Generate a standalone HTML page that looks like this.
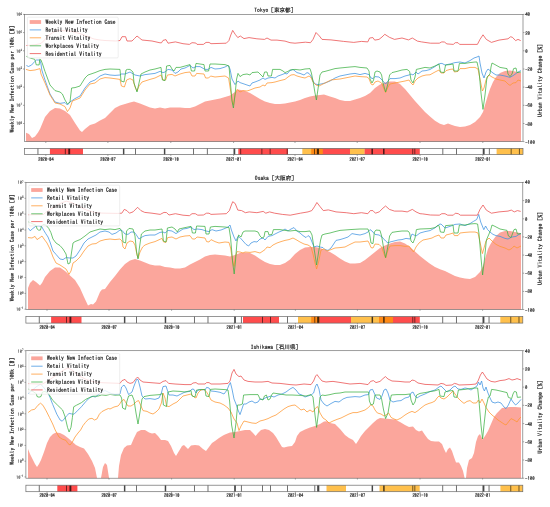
<!DOCTYPE html>
<html lang="ja"><head><meta charset="utf-8"><title>Urban Vitality vs Weekly New Infection Case</title>
<style>
html,body{margin:0;padding:0;background:#fff;}
body{width:550px;height:507px;overflow:hidden;}
svg{display:block;filter:blur(0.3px);}
svg text{font-family:"IPAGothic","Liberation Mono","Noto Sans CJK JP",monospace;stroke:#222;stroke-width:0.18px;paint-order:stroke;}
</style></head><body>
<svg width="550" height="507" viewBox="0 0 550 507">
<rect width="550" height="507" fill="#fff"/>
<polygon points="26.0,141.7 26.0,132.8 29.0,134.0 32.0,138.0 35.0,136.6 38.0,132.5 40.0,129.0 45.0,117.0 50.0,111.0 55.0,108.0 60.0,108.6 65.0,111.0 70.0,115.0 75.0,123.0 80.0,130.6 82.0,132.0 85.0,129.0 90.0,125.0 95.0,123.6 100.0,120.6 105.0,118.0 110.0,113.0 115.0,108.0 120.0,105.4 125.0,104.0 130.0,102.6 134.0,101.6 140.0,103.6 145.0,105.4 150.0,107.4 155.0,108.4 160.0,107.6 165.0,108.4 170.0,107.4 175.0,107.6 180.0,107.4 185.0,108.0 190.0,108.0 195.0,106.6 200.0,104.0 205.0,101.4 210.0,100.6 215.0,99.4 220.0,98.6 225.0,97.0 230.0,95.6 235.0,92.0 238.0,89.4 241.0,90.0 245.0,91.0 250.0,93.0 255.0,96.0 260.0,99.0 265.0,101.4 270.0,103.0 275.0,104.0 280.0,104.0 285.0,103.6 290.0,102.6 295.0,101.4 300.0,100.0 305.0,98.0 310.0,96.6 315.0,95.6 320.0,95.0 324.0,94.4 327.0,95.4 330.0,96.6 335.0,98.0 340.0,100.0 345.0,101.0 350.0,101.0 355.0,99.4 360.0,98.0 365.0,96.0 370.0,93.0 375.0,88.0 380.0,84.6 385.0,82.6 390.0,81.4 395.0,81.6 400.0,84.0 405.0,89.0 410.0,95.0 415.0,101.0 420.0,106.6 425.0,112.0 430.0,116.5 435.0,120.8 440.0,123.7 444.0,125.0 448.0,123.6 452.0,125.0 455.0,126.0 460.0,127.0 465.0,126.6 470.0,125.0 475.0,122.0 480.0,117.0 483.0,112.0 485.0,105.0 488.0,95.0 490.0,89.0 493.0,82.0 496.0,77.0 500.0,73.0 505.0,71.0 510.0,70.6 515.0,71.4 520.0,72.6 521.0,72.8 521.0,141.7" fill="#fba69c"/>
<polyline points="26.4,65.5 28.5,66.5 31.5,65.1 34.7,61.5 36.5,60.0 39.8,60.0 41.0,64.0 41.8,70.0 45.0,80.0 50.0,94.0 55.0,102.0 60.0,103.4 65.0,102.6 67.4,105.0 70.0,102.0 75.0,98.6 80.0,96.0 85.0,88.0 90.0,82.0 95.0,80.0 100.0,76.0 105.0,74.0 110.0,75.0 115.0,75.4 120.0,75.0 121.0,74.0 125.0,74.0 130.0,72.0 135.0,75.0 140.0,76.0 145.0,74.6 150.0,74.0 155.0,73.4 160.0,71.4 163.0,72.6 165.0,72.0 168.0,69.4 172.0,70.0 175.0,73.4 178.0,72.0 181.0,69.0 185.0,68.0 190.0,65.4 193.0,68.0 196.0,66.6 200.0,66.6 205.0,69.4 208.0,69.4 211.0,67.4 215.0,69.0 220.0,68.6 225.0,67.0 228.0,65.4 230.0,69.0 232.0,79.0 235.0,84.6 238.0,81.0 240.0,82.6 243.0,83.6 247.0,85.0 250.0,86.0 252.0,83.0 255.0,82.0 260.0,80.0 263.0,78.0 265.0,79.4 268.0,78.0 272.0,77.4 275.0,78.0 278.0,76.0 282.0,74.6 285.0,73.4 287.0,74.0 290.0,70.6 293.0,69.4 297.0,72.6 300.0,73.4 304.0,75.0 307.0,72.6 309.0,73.4 311.0,76.0 313.0,81.0 315.0,84.0 318.0,84.6 321.0,84.0 325.0,83.0 330.0,81.0 335.0,78.0 340.0,76.0 345.0,75.0 350.0,74.0 355.0,73.4 360.0,74.6 365.0,73.4 369.0,74.6 371.0,78.0 373.0,78.6 375.0,76.6 379.0,77.0 382.0,80.0 385.6,84.0 388.0,81.0 390.0,78.6 395.0,78.6 400.0,78.0 405.0,76.0 409.0,75.0 411.0,74.0 413.0,75.0 416.0,72.0 418.0,74.0 422.0,71.0 426.0,70.6 430.0,69.5 435.0,66.5 438.0,64.5 440.0,63.5 442.0,63.4 445.0,65.0 450.0,64.0 455.0,62.6 460.0,62.0 465.0,63.0 470.0,60.6 474.0,58.0 477.0,57.0 479.0,56.0 480.0,63.0 482.0,73.0 484.0,78.0 486.0,72.0 488.0,69.0 490.0,70.6 493.0,73.0 496.0,75.0 500.0,75.0 505.0,76.0 510.0,77.4 514.0,75.0 518.0,72.0 521.0,70.6" fill="none" stroke="#3d92e0" stroke-width="0.75" stroke-linejoin="round"/>
<polyline points="26.0,69.4 30.0,70.6 35.0,70.0 40.0,68.6 41.0,74.0 45.0,83.0 50.0,95.0 55.0,103.0 60.0,104.0 65.0,106.6 67.4,111.6 70.0,108.0 72.4,101.0 75.0,100.0 80.0,98.0 85.0,90.0 90.0,84.0 95.0,83.0 100.0,79.0 105.0,77.6 110.0,78.0 120.0,79.4 121.4,86.0 124.4,87.0 126.6,80.0 130.0,78.6 133.0,80.0 135.0,87.0 137.0,91.0 139.0,86.0 142.0,82.0 145.0,81.0 150.0,79.4 155.0,78.0 161.0,75.0 163.0,80.0 165.6,80.0 167.4,75.0 172.0,74.4 175.0,76.0 180.0,74.0 185.0,72.6 190.0,72.0 192.0,76.0 195.0,76.0 196.6,73.4 204.0,74.0 205.6,78.0 208.6,78.0 210.6,76.0 215.0,77.0 225.0,76.0 228.6,78.0 230.0,87.0 232.0,100.0 233.4,105.0 235.0,95.0 237.0,89.4 240.0,92.0 243.0,90.6 247.0,91.0 250.0,90.0 255.0,88.0 260.0,87.0 263.0,85.0 265.0,86.0 267.0,83.0 272.0,82.6 275.0,82.0 280.0,80.6 285.0,79.4 288.0,77.0 291.0,75.0 294.0,74.6 297.0,76.0 302.0,77.4 305.0,78.0 309.0,76.0 311.0,77.4 313.0,82.0 316.0,85.0 319.0,86.0 323.0,84.0 327.0,82.0 331.0,80.0 335.0,79.5 340.0,79.0 345.0,78.0 350.0,77.0 355.0,76.0 360.0,76.6 367.0,77.0 369.0,78.6 371.0,84.0 373.0,85.0 375.0,82.0 378.0,81.0 381.6,83.0 384.0,89.0 385.6,92.6 388.0,87.0 390.0,84.0 395.0,83.0 400.0,82.0 405.0,81.0 409.0,80.0 411.0,83.0 413.0,85.0 415.0,81.0 418.0,78.0 422.0,76.0 426.0,75.0 430.0,74.8 435.0,72.0 439.0,70.0 441.0,73.0 444.0,73.0 446.0,70.6 450.0,69.4 453.0,69.0 454.4,72.0 458.0,71.4 460.0,68.6 465.0,68.6 470.0,67.4 475.0,67.4 478.0,69.0 480.0,79.0 482.4,91.0 484.0,88.0 486.0,80.0 489.0,75.0 492.0,77.0 496.0,79.0 500.0,80.0 505.0,81.0 508.0,84.0 510.0,85.4 513.0,83.0 516.0,82.6 518.0,80.0 521.0,81.0" fill="none" stroke="#ff962e" stroke-width="0.75" stroke-linejoin="round"/>
<polyline points="26.4,56.4 30.7,58.2 34.7,59.3 35.5,61.8 36.2,64.8 39.1,65.0 39.8,59.3 40.9,59.8 42.5,64.0 45.0,71.5 50.0,85.0 55.0,90.6 60.0,92.0 62.4,94.0 65.0,100.0 67.4,104.0 70.0,102.0 71.6,88.0 75.0,87.6 80.0,86.0 85.0,78.0 88.0,75.0 95.0,72.6 100.0,70.6 105.0,69.4 110.0,69.0 120.0,69.4 121.0,81.0 124.0,82.0 126.0,70.0 127.4,69.4 130.0,69.4 133.0,72.0 134.0,83.0 137.0,92.0 139.0,83.0 141.0,74.0 145.0,72.0 150.0,70.0 155.0,69.0 161.0,67.4 162.4,80.0 165.0,80.6 166.6,66.0 170.0,65.4 172.0,69.0 174.0,71.0 176.0,67.4 180.0,67.4 185.0,66.0 190.0,64.6 191.4,71.0 194.6,71.0 196.0,63.4 200.0,64.0 204.0,64.6 205.0,71.0 208.6,71.0 210.0,64.0 215.0,64.0 225.0,64.6 229.0,66.0 230.6,85.0 232.0,101.0 233.4,108.0 235.0,95.0 236.6,79.0 238.0,73.4 240.0,76.6 243.0,74.6 247.0,74.0 250.0,75.0 252.0,72.6 258.0,72.0 260.0,74.0 263.0,77.0 264.6,72.0 267.0,72.0 268.0,76.0 271.4,76.0 272.6,69.4 280.0,69.4 283.0,71.0 285.0,72.6 288.0,71.4 290.0,70.0 295.0,69.4 300.0,70.0 305.0,69.0 310.0,68.6 311.4,73.0 313.0,81.0 315.0,93.0 316.4,100.0 318.0,89.0 320.0,75.0 322.0,72.0 325.0,71.4 330.0,70.0 335.0,68.6 340.0,68.0 350.0,67.0 355.0,66.6 360.0,67.4 367.0,68.0 369.0,71.0 370.0,79.0 372.0,83.0 373.6,80.0 375.0,72.0 377.0,71.0 380.0,72.0 381.6,75.0 383.0,83.0 385.6,92.0 387.6,85.0 389.6,75.0 392.0,72.6 397.0,71.4 402.0,70.0 407.0,69.4 409.6,71.4 411.0,80.0 413.0,83.0 415.0,77.0 416.4,69.4 420.0,68.6 425.0,67.4 430.0,68.0 435.0,66.0 439.0,64.0 440.4,72.0 444.0,72.6 445.6,65.0 450.0,64.6 453.0,64.0 454.0,71.0 458.0,71.0 459.4,63.4 465.0,63.4 470.0,62.6 475.0,62.0 477.0,62.0 479.0,71.0 481.0,93.0 483.0,109.4 485.0,95.0 487.0,77.0 490.0,74.0 491.0,67.0 492.0,63.0 495.0,64.6 500.0,67.4 507.0,68.6 508.0,74.0 510.0,76.6 512.0,74.0 513.6,68.6 516.0,68.0 517.0,72.6 521.0,72.0" fill="none" stroke="#3cb043" stroke-width="0.75" stroke-linejoin="round"/>
<polyline points="26.4,45.5 35.0,44.8 41.0,43.5 44.5,40.0 48.0,36.0 52.4,32.8 56.0,31.2 60.0,30.5 66.0,30.8 71.0,31.2 76.0,32.5 81.0,34.0 86.4,35.9 90.0,37.5 94.0,39.0 100.0,40.0 105.0,40.5 115.7,41.0 120.0,40.5 122.0,36.7 125.6,36.7 127.0,41.0 132.0,41.0 134.5,38.5 137.0,36.0 139.5,38.0 142.0,40.0 152.0,41.0 160.0,42.8 161.5,42.8 163.0,40.4 166.0,39.6 168.0,43.2 175.4,41.9 183.0,43.7 189.4,44.4 192.0,42.7 195.8,43.0 197.0,44.4 203.4,44.4 206.0,42.4 209.0,42.4 211.0,43.7 226.3,43.2 228.9,40.6 230.8,35.0 232.7,30.4 235.2,34.3 237.8,37.6 240.3,36.0 244.0,38.6 249.0,37.6 256.9,38.8 264.5,39.4 267.0,38.0 271.0,40.1 277.0,40.1 285.0,41.1 290.0,42.7 295.0,43.2 305.4,42.2 310.5,42.7 313.0,39.4 314.5,36.0 316.0,32.5 319.4,36.0 322.0,39.4 331.0,39.9 343.6,41.4 353.8,42.4 361.4,41.4 367.8,41.9 369.6,38.0 372.9,37.6 374.7,40.1 379.0,39.4 382.0,37.0 384.8,34.3 389.4,37.3 394.5,39.4 402.0,38.0 408.5,39.9 412.3,38.0 417.4,41.1 421.5,41.9 430.4,43.2 439.3,43.2 441.8,41.9 444.4,42.0 446.9,43.9 453.3,44.4 455.3,42.7 458.0,42.7 459.6,44.4 477.4,44.4 480.0,39.4 483.0,34.8 486.3,39.4 491.4,42.4 499.0,40.1 508.0,38.8 510.5,36.8 512.3,37.2 515.6,40.6 518.0,39.4 520.7,40.6" fill="none" stroke="#ea4a4a" stroke-width="0.75" stroke-linejoin="round"/>
<rect x="24.4" y="14.4" width="498.6" height="127.2" fill="none" stroke="#6a6a6a" stroke-width="0.65"/>
<line x1="45.8" y1="141.7" x2="45.8" y2="143.0" stroke="#6a6a6a" stroke-width="0.6"/>
<line x1="107.9" y1="141.7" x2="107.9" y2="143.0" stroke="#6a6a6a" stroke-width="0.6"/>
<line x1="170.8" y1="141.7" x2="170.8" y2="143.0" stroke="#6a6a6a" stroke-width="0.6"/>
<line x1="233.6" y1="141.7" x2="233.6" y2="143.0" stroke="#6a6a6a" stroke-width="0.6"/>
<line x1="295.0" y1="141.7" x2="295.0" y2="143.0" stroke="#6a6a6a" stroke-width="0.6"/>
<line x1="357.2" y1="141.7" x2="357.2" y2="143.0" stroke="#6a6a6a" stroke-width="0.6"/>
<line x1="420.0" y1="141.7" x2="420.0" y2="143.0" stroke="#6a6a6a" stroke-width="0.6"/>
<line x1="482.8" y1="141.7" x2="482.8" y2="143.0" stroke="#6a6a6a" stroke-width="0.6"/>
<line x1="23.0" y1="14.4" x2="24.4" y2="14.4" stroke="#6a6a6a" stroke-width="0.6"/>
<text x="22.1" y="16.2" text-anchor="end" font-size="4.5" fill="#3a3a3a" style="stroke-width:0.08px">10<tspan dy="-1.7" font-size="3.1">6</tspan></text>
<line x1="23.0" y1="32.6" x2="24.4" y2="32.6" stroke="#6a6a6a" stroke-width="0.6"/>
<text x="22.1" y="34.4" text-anchor="end" font-size="4.5" fill="#3a3a3a" style="stroke-width:0.08px">10<tspan dy="-1.7" font-size="3.1">5</tspan></text>
<line x1="23.0" y1="50.8" x2="24.4" y2="50.8" stroke="#6a6a6a" stroke-width="0.6"/>
<text x="22.1" y="52.6" text-anchor="end" font-size="4.5" fill="#3a3a3a" style="stroke-width:0.08px">10<tspan dy="-1.7" font-size="3.1">4</tspan></text>
<line x1="23.0" y1="69.0" x2="24.4" y2="69.0" stroke="#6a6a6a" stroke-width="0.6"/>
<text x="22.1" y="70.8" text-anchor="end" font-size="4.5" fill="#3a3a3a" style="stroke-width:0.08px">10<tspan dy="-1.7" font-size="3.1">3</tspan></text>
<line x1="23.0" y1="87.1" x2="24.4" y2="87.1" stroke="#6a6a6a" stroke-width="0.6"/>
<text x="22.1" y="88.9" text-anchor="end" font-size="4.5" fill="#3a3a3a" style="stroke-width:0.08px">10<tspan dy="-1.7" font-size="3.1">2</tspan></text>
<line x1="23.0" y1="105.3" x2="24.4" y2="105.3" stroke="#6a6a6a" stroke-width="0.6"/>
<text x="22.1" y="107.1" text-anchor="end" font-size="4.5" fill="#3a3a3a" style="stroke-width:0.08px">10<tspan dy="-1.7" font-size="3.1">1</tspan></text>
<line x1="23.0" y1="123.5" x2="24.4" y2="123.5" stroke="#6a6a6a" stroke-width="0.6"/>
<text x="22.1" y="125.3" text-anchor="end" font-size="4.5" fill="#3a3a3a" style="stroke-width:0.08px">10<tspan dy="-1.7" font-size="3.1">0</tspan></text>
<line x1="523.05" y1="14.4" x2="524.4499999999999" y2="14.4" stroke="#6a6a6a" stroke-width="0.6"/>
<text x="525.2" y="16.4" font-size="4.8" fill="#333">40</text>
<line x1="523.05" y1="32.6" x2="524.4499999999999" y2="32.6" stroke="#6a6a6a" stroke-width="0.6"/>
<text x="525.2" y="34.6" font-size="4.8" fill="#333">20</text>
<line x1="523.05" y1="50.8" x2="524.4499999999999" y2="50.8" stroke="#6a6a6a" stroke-width="0.6"/>
<text x="525.2" y="52.8" font-size="4.8" fill="#333">0</text>
<line x1="523.05" y1="69.0" x2="524.4499999999999" y2="69.0" stroke="#6a6a6a" stroke-width="0.6"/>
<text x="525.2" y="71.0" font-size="4.8" fill="#333">-20</text>
<line x1="523.05" y1="87.1" x2="524.4499999999999" y2="87.1" stroke="#6a6a6a" stroke-width="0.6"/>
<text x="525.2" y="89.1" font-size="4.8" fill="#333">-40</text>
<line x1="523.05" y1="105.3" x2="524.4499999999999" y2="105.3" stroke="#6a6a6a" stroke-width="0.6"/>
<text x="525.2" y="107.3" font-size="4.8" fill="#333">-60</text>
<line x1="523.05" y1="123.5" x2="524.4499999999999" y2="123.5" stroke="#6a6a6a" stroke-width="0.6"/>
<text x="525.2" y="125.5" font-size="4.8" fill="#333">-80</text>
<line x1="523.05" y1="141.6" x2="524.4499999999999" y2="141.6" stroke="#6a6a6a" stroke-width="0.6"/>
<text x="525.2" y="143.6" font-size="4.8" fill="#333">-100</text>
<text transform="translate(13.6,79.1) rotate(-90)" text-anchor="middle" font-size="5.63" fill="#222">Weekly New Infection Case per 100k [#]</text>
<text transform="translate(541.9,80.5) rotate(-90)" text-anchor="middle" font-size="5.85" fill="#222">Urban Vitality Change [%]</text>
<text x="273.9" y="12.2" text-anchor="middle" font-size="5.62" fill="#222">Tokyo [東京都]</text>
<rect x="27.4" y="17.2" width="90.8" height="40.7" rx="1" fill="#fff" fill-opacity="0.8" stroke="#dcdcdc" stroke-width="0.5"/>
<rect x="29.7" y="20.1" width="11.4" height="3.8" fill="#fba69c"/>
<line x1="29.7" y1="29.9" x2="41.1" y2="29.9" stroke="#3d92e0" stroke-width="0.75"/>
<line x1="29.7" y1="37.8" x2="41.1" y2="37.8" stroke="#ff962e" stroke-width="0.75"/>
<line x1="29.7" y1="45.8" x2="41.1" y2="45.8" stroke="#3cb043" stroke-width="0.75"/>
<line x1="29.7" y1="53.6" x2="41.1" y2="53.6" stroke="#ea4a4a" stroke-width="0.75"/>
<text x="45.5" y="24.1" font-size="6" textLength="70.1" lengthAdjust="spacingAndGlyphs" fill="#111">Weekly New Infection Case</text>
<text x="45.5" y="32.0" font-size="6" textLength="42.1" lengthAdjust="spacingAndGlyphs" fill="#111">Retail Vitality</text>
<text x="45.5" y="39.9" font-size="6" textLength="44.9" lengthAdjust="spacingAndGlyphs" fill="#111">Transit Vitality</text>
<text x="45.5" y="47.8" font-size="6" textLength="53.3" lengthAdjust="spacingAndGlyphs" fill="#111">Workplaces Vitality</text>
<text x="45.5" y="55.7" font-size="6" textLength="56.1" lengthAdjust="spacingAndGlyphs" fill="#111">Residential Vitality</text>
<rect x="49.9" y="148.4" width="33.1" height="6.2" fill="#ff0000" fill-opacity="0.7"/>
<rect x="238.3" y="148.4" width="49.7" height="6.2" fill="#ff0000" fill-opacity="0.7"/>
<rect x="311.2" y="148.4" width="38.8" height="6.2" fill="#ff0000" fill-opacity="0.7"/>
<rect x="302.3" y="148.4" width="20.5" height="6.2" fill="#ffa500" fill-opacity="0.7"/>
<rect x="350.0" y="148.4" width="14.6" height="6.2" fill="#ffa500" fill-opacity="0.7"/>
<rect x="364.6" y="148.4" width="55.2" height="6.2" fill="#ff0000" fill-opacity="0.7"/>
<rect x="496.6" y="148.4" width="26.4" height="6.2" fill="#ffa500" fill-opacity="0.7"/>
<rect x="37.56" y="148.4" width="0.78" height="6.2" fill="#000" fill-opacity="0.72"/>
<rect x="64.87" y="148.4" width="0.78" height="6.2" fill="#000" fill-opacity="0.72"/>
<rect x="68.28" y="148.4" width="1.88" height="6.2" fill="#000" fill-opacity="0.72"/>
<rect x="122.91" y="148.4" width="1.47" height="6.2" fill="#000" fill-opacity="0.72"/>
<rect x="135.20" y="148.4" width="0.78" height="6.2" fill="#000" fill-opacity="0.72"/>
<rect x="163.87" y="148.4" width="1.47" height="6.2" fill="#000" fill-opacity="0.72"/>
<rect x="193.23" y="148.4" width="0.78" height="6.2" fill="#000" fill-opacity="0.72"/>
<rect x="206.89" y="148.4" width="0.78" height="6.2" fill="#000" fill-opacity="0.72"/>
<rect x="233.52" y="148.4" width="1.74" height="6.2" fill="#000" fill-opacity="0.72"/>
<rect x="240.35" y="148.4" width="0.78" height="6.2" fill="#000" fill-opacity="0.72"/>
<rect x="261.51" y="148.4" width="0.78" height="6.2" fill="#000" fill-opacity="0.72"/>
<rect x="269.71" y="148.4" width="0.78" height="6.2" fill="#000" fill-opacity="0.72"/>
<rect x="286.78" y="148.4" width="0.78" height="6.2" fill="#000" fill-opacity="0.72"/>
<rect x="314.09" y="148.4" width="0.78" height="6.2" fill="#000" fill-opacity="0.72"/>
<rect x="316.82" y="148.4" width="2.15" height="6.2" fill="#000" fill-opacity="0.72"/>
<rect x="371.45" y="148.4" width="1.47" height="6.2" fill="#000" fill-opacity="0.72"/>
<rect x="383.05" y="148.4" width="1.47" height="6.2" fill="#000" fill-opacity="0.72"/>
<rect x="412.41" y="148.4" width="0.78" height="6.2" fill="#000" fill-opacity="0.72"/>
<rect x="414.46" y="148.4" width="0.78" height="6.2" fill="#000" fill-opacity="0.72"/>
<rect x="442.46" y="148.4" width="0.78" height="6.2" fill="#000" fill-opacity="0.72"/>
<rect x="456.11" y="148.4" width="0.78" height="6.2" fill="#000" fill-opacity="0.72"/>
<rect x="482.74" y="148.4" width="1.88" height="6.2" fill="#000" fill-opacity="0.72"/>
<rect x="488.89" y="148.4" width="0.78" height="6.2" fill="#000" fill-opacity="0.72"/>
<rect x="510.74" y="148.4" width="0.78" height="6.2" fill="#000" fill-opacity="0.72"/>
<rect x="518.93" y="148.4" width="0.78" height="6.2" fill="#000" fill-opacity="0.72"/>
<rect x="24.4" y="148.4" width="498.6" height="6.2" fill="none" stroke="#6a6a6a" stroke-width="0.7"/>
<line x1="45.8" y1="154.6" x2="45.8" y2="155.9" stroke="#6a6a6a" stroke-width="0.6"/>
<text x="45.9" y="160.9" text-anchor="middle" font-size="5" textLength="15.4" lengthAdjust="spacingAndGlyphs" fill="#333">2020-04</text>
<line x1="107.9" y1="154.6" x2="107.9" y2="155.9" stroke="#6a6a6a" stroke-width="0.6"/>
<text x="108.0" y="160.9" text-anchor="middle" font-size="5" textLength="15.4" lengthAdjust="spacingAndGlyphs" fill="#333">2020-07</text>
<line x1="170.8" y1="154.6" x2="170.8" y2="155.9" stroke="#6a6a6a" stroke-width="0.6"/>
<text x="170.9" y="160.9" text-anchor="middle" font-size="5" textLength="15.4" lengthAdjust="spacingAndGlyphs" fill="#333">2020-10</text>
<line x1="233.6" y1="154.6" x2="233.6" y2="155.9" stroke="#6a6a6a" stroke-width="0.6"/>
<text x="233.7" y="160.9" text-anchor="middle" font-size="5" textLength="15.4" lengthAdjust="spacingAndGlyphs" fill="#333">2021-01</text>
<line x1="295.0" y1="154.6" x2="295.0" y2="155.9" stroke="#6a6a6a" stroke-width="0.6"/>
<text x="295.1" y="160.9" text-anchor="middle" font-size="5" textLength="15.4" lengthAdjust="spacingAndGlyphs" fill="#333">2021-04</text>
<line x1="357.2" y1="154.6" x2="357.2" y2="155.9" stroke="#6a6a6a" stroke-width="0.6"/>
<text x="357.3" y="160.9" text-anchor="middle" font-size="5" textLength="15.4" lengthAdjust="spacingAndGlyphs" fill="#333">2021-07</text>
<line x1="420.0" y1="154.6" x2="420.0" y2="155.9" stroke="#6a6a6a" stroke-width="0.6"/>
<text x="420.1" y="160.9" text-anchor="middle" font-size="5" textLength="15.4" lengthAdjust="spacingAndGlyphs" fill="#333">2021-10</text>
<line x1="482.8" y1="154.6" x2="482.8" y2="155.9" stroke="#6a6a6a" stroke-width="0.6"/>
<text x="482.9" y="160.9" text-anchor="middle" font-size="5" textLength="15.4" lengthAdjust="spacingAndGlyphs" fill="#333">2022-01</text>
<polygon points="28.0,309.5 28.0,288.0 30.0,283.0 33.0,280.0 36.0,282.0 40.0,285.6 42.0,283.0 45.0,277.0 50.0,271.0 55.0,267.6 60.0,267.6 65.0,271.0 70.0,275.6 75.0,280.0 80.0,288.0 84.0,297.0 88.0,305.6 91.0,304.0 93.0,304.4 96.0,301.6 100.0,292.0 102.0,289.6 105.0,289.0 110.0,282.0 115.0,276.0 120.0,269.6 125.0,264.0 130.0,260.4 135.0,259.0 140.0,260.4 145.0,262.4 150.0,264.4 155.0,265.6 160.0,265.6 165.0,267.0 170.0,267.6 175.0,268.4 180.0,268.6 185.0,267.6 190.0,264.4 195.0,262.0 200.0,259.6 205.0,256.4 210.0,255.0 215.0,254.6 220.0,255.0 225.0,255.6 230.0,256.4 235.0,255.0 240.0,253.0 245.0,252.4 250.0,253.0 255.0,255.6 260.0,259.0 265.0,262.0 270.0,264.0 275.0,265.0 280.0,265.0 285.0,263.0 290.0,259.6 295.0,254.0 300.0,250.0 305.0,247.6 310.0,247.0 315.0,247.0 320.0,248.0 325.0,250.0 330.0,252.0 335.0,255.0 340.0,258.4 345.0,261.6 350.0,263.6 355.0,263.6 360.0,263.0 365.0,260.0 370.0,256.0 375.0,252.0 380.0,248.0 385.0,245.6 390.0,243.6 395.0,242.0 400.0,241.6 405.0,243.6 410.0,247.0 415.0,251.6 420.0,256.0 425.0,260.0 430.0,263.8 435.0,267.0 440.0,269.3 445.0,271.0 450.0,273.6 455.0,276.0 460.0,277.6 465.0,278.4 470.0,279.0 475.0,277.0 480.0,272.0 483.0,266.0 485.0,259.0 488.0,249.0 490.0,245.0 493.0,240.0 496.0,236.0 500.0,232.4 505.0,231.0 510.0,231.0 515.0,232.0 520.0,233.0 521.0,233.2 521.0,309.5" fill="#fba69c"/>
<polyline points="28.4,228.3 30.2,230.8 32.7,228.6 36.0,226.1 39.0,225.8 41.8,226.8 43.6,230.1 45.8,233.7 48.0,237.0 50.0,242.0 53.0,251.0 56.0,254.4 60.0,259.0 63.0,259.6 66.0,257.6 70.0,258.0 73.0,258.0 76.0,256.0 80.0,250.0 84.0,243.0 88.0,239.0 92.0,237.0 96.0,235.0 100.0,232.0 105.0,231.0 109.0,232.0 112.0,234.4 116.0,233.0 120.0,230.0 122.0,230.4 125.0,234.0 128.0,234.4 131.0,232.0 134.0,232.0 136.0,234.4 139.0,239.0 142.0,237.0 145.0,235.6 150.0,235.0 155.0,235.0 160.0,232.4 163.0,232.0 165.0,233.0 168.0,230.4 172.0,231.0 176.0,233.6 179.0,231.6 183.0,229.0 187.0,228.4 191.0,227.0 194.0,229.6 197.0,229.0 202.0,229.6 206.0,231.0 209.0,231.6 212.0,229.6 216.0,231.0 221.0,230.0 225.0,228.4 228.0,227.0 230.0,225.0 231.4,230.0 234.0,237.0 236.0,241.0 238.0,236.4 240.0,237.6 243.0,241.0 246.0,244.4 248.6,246.0 251.0,243.0 254.0,241.6 257.0,242.0 260.0,239.0 263.0,238.0 265.0,240.0 268.0,236.4 272.0,235.6 275.0,234.0 279.0,232.0 283.0,230.4 285.0,229.0 288.0,231.0 291.0,229.0 294.0,227.6 297.0,231.0 300.0,233.0 303.0,235.6 306.0,237.6 308.0,235.6 310.0,237.0 312.0,242.0 314.0,247.0 317.0,246.0 320.0,247.0 323.0,247.6 325.0,249.6 328.0,250.4 331.0,248.0 333.0,245.0 336.0,240.4 340.0,239.6 344.0,238.4 348.0,237.0 352.0,233.6 356.0,234.4 360.0,235.0 365.0,233.6 368.0,232.0 370.0,229.6 372.0,231.0 375.0,234.4 379.0,235.0 382.0,237.0 385.6,241.0 388.0,243.0 390.0,242.0 394.0,241.0 398.0,240.0 402.0,239.6 406.0,238.4 410.0,239.0 412.0,234.0 416.0,236.0 420.0,233.0 425.0,231.6 430.0,230.6 435.0,227.8 438.0,225.6 439.0,224.4 441.0,224.0 445.0,228.0 450.0,226.4 455.0,224.4 460.0,224.0 465.0,225.6 470.0,223.6 473.6,221.3 476.7,219.5 478.7,214.4 480.7,222.0 483.8,229.7 485.6,226.0 487.6,229.6 490.0,232.0 493.0,234.4 496.0,235.6 500.0,236.4 505.0,238.4 508.0,239.0 512.0,237.0 516.0,236.4 519.0,234.4 521.0,233.6" fill="none" stroke="#3d92e0" stroke-width="0.75" stroke-linejoin="round"/>
<polyline points="28.0,237.6 32.0,238.0 35.0,236.4 37.0,239.6 40.0,237.6 42.0,236.0 44.0,239.0 47.0,243.0 50.0,249.0 53.0,257.0 56.0,263.0 60.0,265.0 63.0,267.0 66.0,269.0 69.0,274.4 71.0,271.0 73.0,263.0 76.0,261.0 80.0,257.0 84.0,251.0 88.0,246.0 92.0,244.0 96.0,243.6 100.0,241.0 105.0,239.6 110.0,239.0 115.0,239.6 120.0,239.0 122.0,241.0 123.0,247.0 125.0,249.0 127.0,243.0 130.0,241.0 133.0,241.6 135.0,245.0 137.0,255.0 138.2,258.0 140.0,252.0 142.6,247.0 145.0,245.0 150.0,243.0 155.0,241.6 162.0,238.4 163.6,242.0 166.0,242.4 167.6,237.6 172.0,237.0 176.0,239.0 180.0,237.0 185.0,236.0 190.0,235.6 192.4,239.0 195.0,239.0 197.0,237.0 205.0,238.0 206.6,241.6 209.0,242.0 211.0,239.6 215.0,241.6 219.0,243.0 225.0,242.0 229.0,242.4 230.6,248.0 232.6,261.0 234.0,266.4 235.4,257.0 237.0,251.6 240.0,252.0 243.0,253.0 245.0,252.0 250.0,252.4 255.0,251.6 260.0,253.0 263.0,251.0 265.0,249.6 267.0,247.0 270.0,247.6 273.0,245.0 277.0,243.0 281.0,241.6 285.0,240.4 289.0,239.6 293.0,238.0 296.0,239.6 300.0,242.0 304.0,244.0 308.0,245.0 311.0,247.0 313.0,254.0 315.0,263.0 316.6,269.0 318.6,262.0 321.0,250.0 324.0,249.0 327.0,251.0 331.0,249.6 335.0,248.0 340.0,247.6 345.0,247.0 350.0,244.4 355.0,242.0 360.0,242.0 368.0,241.0 369.6,244.0 371.0,247.6 373.0,248.0 375.0,244.0 379.0,244.4 381.6,247.0 384.0,254.0 385.6,258.0 388.0,250.0 390.0,246.0 395.0,245.6 400.0,245.6 405.0,246.4 409.0,246.0 411.0,249.0 413.6,252.0 416.0,247.0 419.0,243.0 423.0,240.0 428.0,239.0 432.0,238.0 435.0,236.4 439.0,235.0 441.0,238.0 444.0,238.0 446.0,235.0 450.0,234.0 453.0,233.0 454.4,235.6 458.0,235.6 460.0,233.0 465.0,232.4 470.0,232.0 475.0,232.0 478.0,233.0 480.0,242.0 482.4,253.6 484.0,248.0 486.0,241.0 489.0,238.0 492.0,241.0 496.0,244.4 500.0,246.4 505.0,248.0 509.0,250.0 512.0,248.4 514.0,246.0 517.0,248.0 521.0,246.0" fill="none" stroke="#ff962e" stroke-width="0.75" stroke-linejoin="round"/>
<polyline points="28.4,221.9 32.0,223.5 36.0,225.4 37.1,229.0 38.5,230.1 40.4,230.1 41.5,226.1 43.0,224.5 45.8,225.0 48.7,228.3 50.9,232.6 53.0,239.0 56.0,243.0 60.0,245.6 63.0,249.0 66.0,254.0 68.0,264.0 70.0,263.0 71.6,252.0 73.0,243.0 75.0,241.6 80.0,239.6 85.0,236.0 90.0,232.0 95.0,230.4 100.0,229.0 105.0,229.6 110.0,229.0 115.0,229.6 120.0,228.4 122.0,232.0 123.0,242.0 125.6,243.0 126.6,231.0 129.0,228.4 133.0,229.0 135.0,236.0 136.6,252.0 138.0,259.0 139.4,248.0 141.4,234.0 145.0,231.0 150.0,230.0 155.0,230.0 162.0,229.0 163.4,241.0 166.0,242.0 167.4,228.0 172.0,227.0 175.0,229.0 177.4,232.0 179.0,229.0 185.0,227.6 191.0,226.4 192.4,233.0 195.4,233.0 196.6,226.0 205.0,226.4 206.0,234.0 209.0,234.0 210.4,227.0 215.0,226.4 225.0,227.0 229.0,227.6 230.6,238.0 232.6,262.0 234.2,274.0 235.4,262.0 237.0,242.0 238.6,235.0 241.0,237.0 243.0,232.0 245.0,231.0 255.0,231.0 258.0,232.0 260.0,236.0 262.0,238.0 264.0,237.0 265.0,231.6 268.0,231.6 269.0,235.0 272.0,234.4 273.4,229.6 280.0,229.6 285.0,230.4 290.0,231.0 295.0,230.4 300.0,231.6 305.0,231.6 310.0,231.0 312.0,235.0 314.0,248.0 316.6,265.0 318.6,252.0 320.6,240.0 322.0,235.0 325.0,234.0 330.0,233.0 335.0,231.6 340.0,230.4 350.0,229.6 360.0,229.0 368.0,229.0 369.6,234.0 371.0,243.0 373.0,243.6 374.4,232.0 376.0,230.0 380.0,230.4 381.6,236.0 383.6,248.0 385.6,257.6 387.6,248.0 389.6,236.0 392.0,232.4 397.0,231.6 402.0,231.0 408.0,231.0 409.6,233.0 411.0,241.0 413.0,243.0 415.0,238.0 416.4,229.6 420.0,229.0 430.0,228.6 435.0,227.6 438.0,225.3 439.0,225.6 440.4,232.0 444.0,232.4 445.6,225.6 453.0,225.0 454.0,233.0 458.0,233.0 459.4,225.0 465.0,225.0 470.0,224.0 475.0,223.6 477.6,224.0 479.0,234.0 481.0,258.0 482.6,275.0 484.4,260.0 486.4,240.0 489.0,234.0 490.6,230.0 492.0,225.0 495.0,226.4 500.0,229.0 507.0,230.4 508.4,236.0 511.0,237.6 512.4,234.0 514.0,229.6 516.0,229.0 517.4,234.0 521.0,233.6" fill="none" stroke="#3cb043" stroke-width="0.75" stroke-linejoin="round"/>
<polyline points="28.4,214.8 40.0,214.6 43.6,214.5 45.8,212.3 50.0,209.5 55.5,206.2 60.0,203.5 66.3,201.2 70.9,202.3 75.0,204.3 78.6,206.2 86.4,210.0 94.0,212.4 101.8,213.1 117.3,213.4 121.8,213.2 124.3,209.4 126.9,210.6 129.4,213.2 133.0,211.9 137.6,207.3 140.9,210.6 144.7,212.4 152.0,213.2 160.2,214.4 164.0,212.4 166.5,212.6 169.0,215.0 175.4,213.7 183.0,215.2 189.4,215.7 192.0,213.7 195.3,213.7 197.8,215.2 203.4,215.0 206.5,213.2 209.0,213.2 211.0,214.4 226.3,213.7 229.4,210.6 231.0,206.0 232.7,201.7 235.2,203.5 237.8,210.1 241.6,210.6 245.4,212.7 249.2,211.9 256.9,212.7 263.2,211.4 265.8,213.2 269.6,211.9 274.7,213.2 282.3,214.4 290.2,215.2 300.4,213.2 308.0,211.9 311.8,210.6 314.4,206.8 316.9,202.5 320.2,206.8 323.3,210.6 328.3,209.9 336.0,211.9 346.2,212.7 353.8,213.7 361.4,212.7 367.8,213.7 370.3,210.6 372.9,210.6 375.4,213.2 379.2,211.9 383.0,208.1 385.6,206.0 389.4,209.4 394.5,211.1 402.0,211.1 407.2,211.9 412.3,209.4 416.0,211.9 420.0,213.7 422.7,213.9 430.4,215.0 439.3,215.2 441.8,213.7 445.0,213.7 447.7,215.2 453.3,215.2 455.3,213.2 458.3,213.7 460.4,215.2 477.4,215.2 480.0,209.4 483.0,205.0 486.3,210.1 491.4,213.2 499.0,211.9 508.0,211.1 511.3,210.1 514.3,211.9 517.4,210.6 520.7,211.4" fill="none" stroke="#ea4a4a" stroke-width="0.75" stroke-linejoin="round"/>
<rect x="25.9" y="182.4" width="496.9" height="127.1" fill="none" stroke="#6a6a6a" stroke-width="0.65"/>
<line x1="47.0" y1="309.5" x2="47.0" y2="310.8" stroke="#6a6a6a" stroke-width="0.6"/>
<line x1="109.0" y1="309.5" x2="109.0" y2="310.8" stroke="#6a6a6a" stroke-width="0.6"/>
<line x1="171.6" y1="309.5" x2="171.6" y2="310.8" stroke="#6a6a6a" stroke-width="0.6"/>
<line x1="234.2" y1="309.5" x2="234.2" y2="310.8" stroke="#6a6a6a" stroke-width="0.6"/>
<line x1="295.4" y1="309.5" x2="295.4" y2="310.8" stroke="#6a6a6a" stroke-width="0.6"/>
<line x1="357.4" y1="309.5" x2="357.4" y2="310.8" stroke="#6a6a6a" stroke-width="0.6"/>
<line x1="420.0" y1="309.5" x2="420.0" y2="310.8" stroke="#6a6a6a" stroke-width="0.6"/>
<line x1="482.6" y1="309.5" x2="482.6" y2="310.8" stroke="#6a6a6a" stroke-width="0.6"/>
<line x1="24.5" y1="182.4" x2="25.9" y2="182.4" stroke="#6a6a6a" stroke-width="0.6"/>
<text x="23.6" y="184.2" text-anchor="end" font-size="4.5" fill="#3a3a3a" style="stroke-width:0.08px">10<tspan dy="-1.7" font-size="3.1">7</tspan></text>
<line x1="24.5" y1="198.3" x2="25.9" y2="198.3" stroke="#6a6a6a" stroke-width="0.6"/>
<text x="23.6" y="200.1" text-anchor="end" font-size="4.5" fill="#3a3a3a" style="stroke-width:0.08px">10<tspan dy="-1.7" font-size="3.1">6</tspan></text>
<line x1="24.5" y1="214.1" x2="25.9" y2="214.1" stroke="#6a6a6a" stroke-width="0.6"/>
<text x="23.6" y="215.9" text-anchor="end" font-size="4.5" fill="#3a3a3a" style="stroke-width:0.08px">10<tspan dy="-1.7" font-size="3.1">5</tspan></text>
<line x1="24.5" y1="230.0" x2="25.9" y2="230.0" stroke="#6a6a6a" stroke-width="0.6"/>
<text x="23.6" y="231.8" text-anchor="end" font-size="4.5" fill="#3a3a3a" style="stroke-width:0.08px">10<tspan dy="-1.7" font-size="3.1">4</tspan></text>
<line x1="24.5" y1="245.8" x2="25.9" y2="245.8" stroke="#6a6a6a" stroke-width="0.6"/>
<text x="23.6" y="247.7" text-anchor="end" font-size="4.5" fill="#3a3a3a" style="stroke-width:0.08px">10<tspan dy="-1.7" font-size="3.1">3</tspan></text>
<line x1="24.5" y1="261.7" x2="25.9" y2="261.7" stroke="#6a6a6a" stroke-width="0.6"/>
<text x="23.6" y="263.5" text-anchor="end" font-size="4.5" fill="#3a3a3a" style="stroke-width:0.08px">10<tspan dy="-1.7" font-size="3.1">2</tspan></text>
<line x1="24.5" y1="277.5" x2="25.9" y2="277.5" stroke="#6a6a6a" stroke-width="0.6"/>
<text x="23.6" y="279.3" text-anchor="end" font-size="4.5" fill="#3a3a3a" style="stroke-width:0.08px">10<tspan dy="-1.7" font-size="3.1">1</tspan></text>
<line x1="24.5" y1="293.4" x2="25.9" y2="293.4" stroke="#6a6a6a" stroke-width="0.6"/>
<text x="23.6" y="295.2" text-anchor="end" font-size="4.5" fill="#3a3a3a" style="stroke-width:0.08px">10<tspan dy="-1.7" font-size="3.1">0</tspan></text>
<line x1="24.5" y1="309.2" x2="25.9" y2="309.2" stroke="#6a6a6a" stroke-width="0.6"/>
<text x="23.6" y="311.1" text-anchor="end" font-size="4.5" fill="#3a3a3a" style="stroke-width:0.08px">10<tspan dy="-1.7" font-size="3.1">-1</tspan></text>
<line x1="522.8" y1="182.4" x2="524.1999999999999" y2="182.4" stroke="#6a6a6a" stroke-width="0.6"/>
<text x="525.0" y="184.4" font-size="4.8" fill="#333">40</text>
<line x1="522.8" y1="200.6" x2="524.1999999999999" y2="200.6" stroke="#6a6a6a" stroke-width="0.6"/>
<text x="525.0" y="202.6" font-size="4.8" fill="#333">20</text>
<line x1="522.8" y1="218.8" x2="524.1999999999999" y2="218.8" stroke="#6a6a6a" stroke-width="0.6"/>
<text x="525.0" y="220.8" font-size="4.8" fill="#333">0</text>
<line x1="522.8" y1="236.9" x2="524.1999999999999" y2="236.9" stroke="#6a6a6a" stroke-width="0.6"/>
<text x="525.0" y="238.9" font-size="4.8" fill="#333">-20</text>
<line x1="522.8" y1="255.1" x2="524.1999999999999" y2="255.1" stroke="#6a6a6a" stroke-width="0.6"/>
<text x="525.0" y="257.1" font-size="4.8" fill="#333">-40</text>
<line x1="522.8" y1="273.2" x2="524.1999999999999" y2="273.2" stroke="#6a6a6a" stroke-width="0.6"/>
<text x="525.0" y="275.2" font-size="4.8" fill="#333">-60</text>
<line x1="522.8" y1="291.4" x2="524.1999999999999" y2="291.4" stroke="#6a6a6a" stroke-width="0.6"/>
<text x="525.0" y="293.4" font-size="4.8" fill="#333">-80</text>
<line x1="522.8" y1="309.5" x2="524.1999999999999" y2="309.5" stroke="#6a6a6a" stroke-width="0.6"/>
<text x="525.0" y="311.5" font-size="4.8" fill="#333">-100</text>
<text transform="translate(13.6,247.9) rotate(-90)" text-anchor="middle" font-size="5.63" fill="#222">Weekly New Infection Case per 100k [#]</text>
<text transform="translate(541.9,248.5) rotate(-90)" text-anchor="middle" font-size="5.85" fill="#222">Urban Vitality Change [%]</text>
<text x="274.5" y="180.2" text-anchor="middle" font-size="5.62" fill="#222">Osaka [大阪府]</text>
<rect x="28.9" y="185.2" width="90.8" height="40.7" rx="1" fill="#fff" fill-opacity="0.8" stroke="#dcdcdc" stroke-width="0.5"/>
<rect x="31.2" y="188.1" width="11.4" height="3.8" fill="#fba69c"/>
<line x1="31.2" y1="197.9" x2="42.6" y2="197.9" stroke="#3d92e0" stroke-width="0.75"/>
<line x1="31.2" y1="205.8" x2="42.6" y2="205.8" stroke="#ff962e" stroke-width="0.75"/>
<line x1="31.2" y1="213.8" x2="42.6" y2="213.8" stroke="#3cb043" stroke-width="0.75"/>
<line x1="31.2" y1="221.6" x2="42.6" y2="221.6" stroke="#ea4a4a" stroke-width="0.75"/>
<text x="47.0" y="192.1" font-size="6" textLength="70.1" lengthAdjust="spacingAndGlyphs" fill="#111">Weekly New Infection Case</text>
<text x="47.0" y="200.0" font-size="6" textLength="42.1" lengthAdjust="spacingAndGlyphs" fill="#111">Retail Vitality</text>
<text x="47.0" y="207.9" font-size="6" textLength="44.9" lengthAdjust="spacingAndGlyphs" fill="#111">Transit Vitality</text>
<text x="47.0" y="215.8" font-size="6" textLength="53.3" lengthAdjust="spacingAndGlyphs" fill="#111">Workplaces Vitality</text>
<text x="47.0" y="223.7" font-size="6" textLength="56.1" lengthAdjust="spacingAndGlyphs" fill="#111">Residential Vitality</text>
<rect x="51.1" y="316.5" width="30.4" height="6.6" fill="#ff0000" fill-opacity="0.7"/>
<rect x="243.0" y="316.5" width="36.0" height="6.6" fill="#ff0000" fill-opacity="0.7"/>
<rect x="311.2" y="316.5" width="39.8" height="6.6" fill="#ff0000" fill-opacity="0.7"/>
<rect x="298.0" y="316.5" width="21.6" height="6.6" fill="#ffa500" fill-opacity="0.7"/>
<rect x="379.0" y="316.5" width="40.8" height="6.6" fill="#ff0000" fill-opacity="0.7"/>
<rect x="351.0" y="316.5" width="42.0" height="6.6" fill="#ffa500" fill-opacity="0.7"/>
<rect x="500.3" y="316.5" width="22.5" height="6.6" fill="#ffa500" fill-opacity="0.7"/>
<rect x="38.83" y="316.5" width="0.78" height="6.6" fill="#000" fill-opacity="0.72"/>
<rect x="66.05" y="316.5" width="0.78" height="6.6" fill="#000" fill-opacity="0.72"/>
<rect x="69.46" y="316.5" width="1.88" height="6.6" fill="#000" fill-opacity="0.72"/>
<rect x="123.90" y="316.5" width="1.47" height="6.6" fill="#000" fill-opacity="0.72"/>
<rect x="136.15" y="316.5" width="0.78" height="6.6" fill="#000" fill-opacity="0.72"/>
<rect x="164.73" y="316.5" width="1.47" height="6.6" fill="#000" fill-opacity="0.72"/>
<rect x="193.99" y="316.5" width="0.78" height="6.6" fill="#000" fill-opacity="0.72"/>
<rect x="207.60" y="316.5" width="0.78" height="6.6" fill="#000" fill-opacity="0.72"/>
<rect x="234.14" y="316.5" width="1.74" height="6.6" fill="#000" fill-opacity="0.72"/>
<rect x="240.94" y="316.5" width="0.78" height="6.6" fill="#000" fill-opacity="0.72"/>
<rect x="262.04" y="316.5" width="0.78" height="6.6" fill="#000" fill-opacity="0.72"/>
<rect x="270.20" y="316.5" width="0.78" height="6.6" fill="#000" fill-opacity="0.72"/>
<rect x="287.22" y="316.5" width="0.78" height="6.6" fill="#000" fill-opacity="0.72"/>
<rect x="314.44" y="316.5" width="0.78" height="6.6" fill="#000" fill-opacity="0.72"/>
<rect x="317.16" y="316.5" width="2.15" height="6.6" fill="#000" fill-opacity="0.72"/>
<rect x="371.60" y="316.5" width="1.47" height="6.6" fill="#000" fill-opacity="0.72"/>
<rect x="383.17" y="316.5" width="1.47" height="6.6" fill="#000" fill-opacity="0.72"/>
<rect x="412.43" y="316.5" width="0.78" height="6.6" fill="#000" fill-opacity="0.72"/>
<rect x="414.47" y="316.5" width="0.78" height="6.6" fill="#000" fill-opacity="0.72"/>
<rect x="442.37" y="316.5" width="0.78" height="6.6" fill="#000" fill-opacity="0.72"/>
<rect x="455.98" y="316.5" width="0.78" height="6.6" fill="#000" fill-opacity="0.72"/>
<rect x="482.52" y="316.5" width="1.88" height="6.6" fill="#000" fill-opacity="0.72"/>
<rect x="488.64" y="316.5" width="0.78" height="6.6" fill="#000" fill-opacity="0.72"/>
<rect x="510.42" y="316.5" width="0.78" height="6.6" fill="#000" fill-opacity="0.72"/>
<rect x="518.59" y="316.5" width="0.78" height="6.6" fill="#000" fill-opacity="0.72"/>
<rect x="25.9" y="316.5" width="496.9" height="6.6" fill="none" stroke="#6a6a6a" stroke-width="0.7"/>
<line x1="47.0" y1="323.1" x2="47.0" y2="324.4" stroke="#6a6a6a" stroke-width="0.6"/>
<text x="47.1" y="329.1" text-anchor="middle" font-size="5" textLength="15.4" lengthAdjust="spacingAndGlyphs" fill="#333">2020-04</text>
<line x1="109.0" y1="323.1" x2="109.0" y2="324.4" stroke="#6a6a6a" stroke-width="0.6"/>
<text x="109.1" y="329.1" text-anchor="middle" font-size="5" textLength="15.4" lengthAdjust="spacingAndGlyphs" fill="#333">2020-07</text>
<line x1="171.6" y1="323.1" x2="171.6" y2="324.4" stroke="#6a6a6a" stroke-width="0.6"/>
<text x="171.7" y="329.1" text-anchor="middle" font-size="5" textLength="15.4" lengthAdjust="spacingAndGlyphs" fill="#333">2020-10</text>
<line x1="234.2" y1="323.1" x2="234.2" y2="324.4" stroke="#6a6a6a" stroke-width="0.6"/>
<text x="234.3" y="329.1" text-anchor="middle" font-size="5" textLength="15.4" lengthAdjust="spacingAndGlyphs" fill="#333">2021-01</text>
<line x1="295.4" y1="323.1" x2="295.4" y2="324.4" stroke="#6a6a6a" stroke-width="0.6"/>
<text x="295.5" y="329.1" text-anchor="middle" font-size="5" textLength="15.4" lengthAdjust="spacingAndGlyphs" fill="#333">2021-04</text>
<line x1="357.4" y1="323.1" x2="357.4" y2="324.4" stroke="#6a6a6a" stroke-width="0.6"/>
<text x="357.5" y="329.1" text-anchor="middle" font-size="5" textLength="15.4" lengthAdjust="spacingAndGlyphs" fill="#333">2021-07</text>
<line x1="420.0" y1="323.1" x2="420.0" y2="324.4" stroke="#6a6a6a" stroke-width="0.6"/>
<text x="420.1" y="329.1" text-anchor="middle" font-size="5" textLength="15.4" lengthAdjust="spacingAndGlyphs" fill="#333">2021-10</text>
<line x1="482.6" y1="323.1" x2="482.6" y2="324.4" stroke="#6a6a6a" stroke-width="0.6"/>
<text x="482.7" y="329.1" text-anchor="middle" font-size="5" textLength="15.4" lengthAdjust="spacingAndGlyphs" fill="#333">2022-01</text>
<polygon points="28.0,478.2 28.0,449.0 30.0,454.0 33.0,460.0 35.0,464.0 37.0,467.0 39.0,464.0 41.0,460.0 44.0,452.0 47.0,443.0 50.0,437.0 53.0,434.0 56.0,432.6 60.0,433.0 64.0,435.0 68.0,438.0 72.0,441.6 76.0,445.0 80.0,447.0 84.0,448.4 88.0,454.0 92.0,461.0 95.0,468.0 97.0,478.0 97.0,478.2" fill="#fba69c"/>
<polygon points="101.0,478.2 101.0,478.0 103.0,467.0 105.0,463.0 107.0,465.0 109.0,478.0 109.0,478.2" fill="#fba69c"/>
<polygon points="118.0,478.2 118.0,478.0 119.0,466.0 121.0,455.0 124.0,448.0 127.0,445.6 131.0,445.0 134.0,438.0 137.0,432.0 141.0,430.0 145.0,430.0 149.0,432.4 152.0,433.6 155.0,433.0 158.0,436.0 161.0,440.0 165.0,440.0 168.0,441.0 171.0,446.0 174.0,453.0 176.0,456.0 179.0,451.0 182.0,446.0 184.0,445.0 186.0,447.0 188.0,449.0 191.0,445.6 195.0,445.0 199.0,445.6 203.0,449.0 206.0,451.0 209.0,447.0 212.0,443.0 215.0,441.0 219.0,438.0 223.0,435.6 225.0,434.5 230.0,432.6 235.0,432.0 240.0,431.0 245.0,430.0 250.0,430.0 253.0,433.0 255.6,436.0 258.0,433.0 261.0,430.0 265.0,429.0 269.0,430.0 273.0,433.0 276.0,437.0 279.0,442.0 282.0,447.0 284.0,447.4 288.0,446.6 292.0,446.0 295.0,442.0 297.0,436.0 300.0,432.0 305.0,429.4 310.0,427.4 315.0,426.0 320.0,424.0 324.0,421.4 327.0,421.2 330.0,423.0 335.0,424.0 340.0,429.0 345.0,435.0 349.0,438.0 353.0,440.0 356.0,444.0 358.0,441.0 361.0,436.0 365.0,431.0 369.0,427.0 373.0,423.0 377.0,419.4 380.0,418.0 385.0,418.6 390.0,419.0 395.0,419.4 400.0,422.0 405.0,425.0 409.0,427.0 413.0,426.6 416.0,430.0 419.0,431.4 422.0,430.6 425.0,435.0 428.0,439.0 431.0,441.0 435.0,441.6 439.0,441.6 442.0,444.0 444.0,449.0 446.0,453.0 448.0,449.0 450.0,447.6 452.0,451.0 454.0,457.0 456.0,462.4 459.0,462.4 461.0,466.0 463.0,471.0 464.6,478.0 464.6,478.2" fill="#fba69c"/>
<polygon points="466.0,478.2 466.0,478.0 467.0,468.0 469.0,460.0 472.0,458.0 474.0,453.0 476.0,442.0 478.0,436.0 480.0,434.0 482.6,439.6 485.0,436.0 488.0,431.0 491.0,424.0 494.0,417.0 497.0,413.0 500.0,410.0 502.0,408.0 506.0,407.4 510.0,407.0 515.0,407.0 521.0,407.4 521.0,478.0 521.0,478.2" fill="#fba69c"/>
<polyline points="28.4,393.5 32.0,390.5 36.0,387.0 39.0,385.0 40.7,384.4 43.0,386.5 46.0,390.5 48.0,393.1 50.0,397.5 52.7,404.4 56.8,414.2 60.1,420.0 62.2,421.2 64.2,419.0 66.6,415.8 69.1,413.4 71.6,413.9 74.0,414.2 77.3,410.9 81.4,406.8 85.5,401.9 88.7,398.6 92.0,396.2 95.3,397.0 98.6,394.5 101.8,392.0 105.0,390.5 110.0,393.0 115.0,394.6 120.0,394.0 121.6,387.0 124.0,385.0 126.0,388.0 128.6,394.6 132.0,392.0 134.0,386.0 136.6,379.4 138.0,379.4 140.0,387.0 142.0,396.0 145.0,399.0 150.0,398.6 155.0,399.4 159.0,398.0 161.4,393.0 163.0,386.6 166.0,386.0 167.6,391.0 169.0,395.0 173.0,395.0 177.0,396.0 181.0,394.0 185.0,392.0 190.0,391.4 192.0,389.0 194.0,389.4 196.0,393.0 198.0,390.0 201.0,389.4 205.0,390.0 206.6,387.4 209.0,388.0 211.0,391.0 215.0,391.4 220.0,392.3 224.0,394.0 227.0,390.0 229.0,385.0 230.4,382.6 232.0,389.0 234.0,399.0 236.0,404.0 238.0,410.0 240.0,414.6 241.6,410.0 243.6,404.0 246.0,404.0 249.0,402.0 252.0,401.0 255.0,403.0 258.0,402.0 260.0,399.0 263.0,399.4 265.0,398.0 268.0,397.0 271.0,396.0 274.0,397.0 278.0,395.0 282.0,394.0 286.0,392.0 290.0,389.0 293.0,387.4 296.0,390.0 299.0,394.0 302.0,395.0 305.0,397.0 308.0,396.0 311.0,395.0 313.6,393.0 315.6,386.0 317.0,384.0 319.0,389.0 321.0,400.0 324.0,404.0 327.0,406.0 331.0,403.5 335.0,401.4 339.0,402.0 343.0,399.0 347.0,397.4 351.0,397.0 355.0,396.6 360.0,397.0 365.0,395.0 368.6,394.6 370.0,390.0 372.6,389.4 374.6,394.0 376.6,398.0 380.0,399.4 382.0,396.0 384.0,390.0 386.0,389.0 388.0,393.0 390.0,400.0 393.0,402.0 397.0,401.0 401.0,400.6 405.0,398.0 409.0,397.0 411.0,393.0 413.0,392.0 415.0,396.0 417.0,398.0 420.0,396.0 425.0,394.0 430.0,391.5 435.0,390.0 439.0,387.0 441.0,386.0 444.0,389.0 447.0,392.0 450.0,390.0 453.0,387.0 455.0,386.0 458.0,389.0 461.0,389.4 465.0,388.0 468.0,388.6 471.0,390.0 474.0,388.0 477.0,386.0 478.4,382.0 480.0,385.0 481.6,381.0 483.0,388.0 484.4,391.0 486.0,387.0 487.6,392.0 489.6,397.0 492.0,402.0 495.0,403.0 498.0,402.0 501.0,403.0 504.0,407.0 506.0,408.6 508.4,405.0 511.0,399.0 513.0,402.0 515.6,405.0 518.0,403.0 521.0,399.4" fill="none" stroke="#3d92e0" stroke-width="0.75" stroke-linejoin="round"/>
<polyline points="28.2,412.5 31.5,410.0 34.7,409.3 38.0,405.2 40.5,403.2 42.9,405.2 46.2,410.9 49.5,417.5 52.7,424.0 55.2,430.0 59.0,437.0 62.0,439.0 66.0,440.4 68.0,443.6 70.0,445.0 72.4,442.0 75.0,437.0 78.0,433.0 80.6,430.0 83.0,425.6 85.5,422.4 88.7,419.0 92.0,418.3 94.5,420.0 96.9,419.0 99.4,414.2 101.8,411.7 105.0,410.0 108.4,408.5 110.0,409.0 114.0,407.0 118.0,406.0 119.0,405.0 121.6,401.0 124.0,399.4 126.0,403.0 128.0,406.0 131.0,406.0 134.0,404.0 136.6,401.4 138.6,400.6 141.0,406.0 143.0,410.6 147.0,411.4 150.0,413.0 153.0,414.0 156.0,412.0 159.0,409.0 161.4,403.0 163.0,393.0 165.0,398.0 166.6,406.0 169.0,406.6 173.0,404.0 177.0,402.0 180.0,399.0 183.0,396.0 187.0,395.0 191.0,394.0 194.0,397.0 196.0,398.0 198.0,393.0 201.0,390.0 204.0,389.4 206.6,392.0 209.0,396.0 211.0,400.0 215.0,402.0 220.0,403.0 224.0,405.0 228.0,408.0 231.0,412.0 234.0,419.0 237.0,423.0 239.0,430.6 241.0,426.0 244.0,421.0 248.0,422.0 252.0,423.0 256.0,423.4 260.0,421.0 264.0,420.0 268.0,418.6 272.0,416.6 276.0,415.0 280.0,412.0 284.0,409.0 288.0,406.6 292.0,405.4 295.0,405.0 298.0,407.4 301.0,410.0 304.0,409.0 307.0,412.0 310.0,410.0 313.0,412.0 315.6,408.0 317.6,406.6 320.0,413.0 323.0,418.0 326.0,420.0 329.0,423.0 333.0,421.0 337.0,419.4 341.0,418.0 345.0,416.0 349.0,414.0 353.0,412.6 357.0,412.6 361.0,411.4 365.0,410.0 368.6,407.4 371.0,404.6 373.0,406.0 375.0,410.0 377.4,413.0 381.0,414.0 384.0,416.0 386.0,415.0 388.6,413.0 391.0,417.4 394.0,419.0 397.0,420.0 401.0,418.0 405.0,415.0 409.0,412.6 412.0,411.4 415.0,412.6 418.0,410.6 421.0,408.0 425.0,405.0 429.0,403.4 432.0,402.5 435.0,401.0 437.0,398.0 439.0,396.0 441.0,398.0 444.0,399.0 447.0,397.0 450.0,394.0 453.0,391.0 455.0,394.0 458.0,398.0 461.0,401.0 464.0,403.4 467.0,401.4 470.0,400.6 473.0,403.0 476.4,403.0 478.4,400.0 480.0,403.0 482.0,399.0 484.0,403.0 486.0,407.4 489.0,412.0 492.0,415.0 495.0,417.4 498.0,420.0 501.0,422.0 504.0,424.0 506.0,425.0 508.4,422.0 511.0,418.6 514.0,420.0 517.0,422.0 519.0,419.0 521.0,417.0" fill="none" stroke="#ff962e" stroke-width="0.75" stroke-linejoin="round"/>
<polyline points="28.4,389.1 33.0,391.5 36.4,393.8 37.0,396.5 39.0,397.2 41.0,396.5 41.8,393.8 42.5,392.0 45.0,391.5 48.0,393.1 50.0,396.0 52.7,400.3 57.6,405.2 62.6,410.0 65.0,416.6 67.5,427.3 69.1,432.0 71.0,427.3 72.4,417.5 73.7,406.8 76.5,405.2 81.4,402.7 85.5,399.5 89.6,397.5 93.6,396.2 97.7,396.2 101.8,394.9 106.0,395.4 110.0,394.4 115.0,395.2 120.0,395.0 121.6,398.0 122.6,408.0 125.4,409.4 127.0,401.0 128.6,396.0 132.0,395.0 134.0,400.0 136.0,413.0 138.0,424.0 140.0,412.0 142.0,399.0 144.0,396.6 150.0,395.4 160.0,394.6 162.4,393.4 163.4,405.0 166.6,406.6 168.0,392.0 173.0,391.0 180.0,391.4 185.0,392.0 191.0,390.6 192.0,396.0 195.0,397.0 196.6,390.0 205.0,389.4 206.0,396.0 209.0,396.6 210.4,389.4 215.0,389.0 225.0,389.6 228.0,390.0 229.6,401.0 231.6,425.0 234.0,438.0 236.0,423.0 237.6,405.0 240.0,405.0 242.4,404.0 243.6,395.0 250.0,394.6 258.0,394.6 260.0,399.0 263.0,400.0 264.4,396.0 266.4,395.0 268.0,400.0 270.0,399.0 271.6,395.0 273.0,393.0 280.0,394.0 286.0,395.0 292.0,395.0 300.0,395.4 306.0,396.0 311.0,394.6 313.0,397.0 315.0,415.0 316.6,427.4 318.4,413.0 320.0,397.0 322.0,395.0 325.0,395.5 330.0,394.6 335.0,393.4 340.0,393.0 345.0,392.0 355.0,392.0 365.0,392.0 368.6,392.0 369.4,401.0 371.0,405.0 373.4,404.0 375.0,395.0 380.0,395.0 381.6,399.0 383.4,409.0 385.6,418.6 388.0,413.0 390.0,401.0 391.4,395.0 397.0,394.6 405.0,394.6 410.0,394.0 411.0,400.0 413.0,405.0 415.0,402.0 416.6,395.0 420.0,393.4 425.0,392.6 430.0,391.6 435.0,390.8 439.0,389.4 440.0,396.0 444.0,396.6 445.0,392.0 448.0,391.0 453.0,390.6 454.0,397.0 457.0,397.4 458.4,390.0 465.0,389.4 470.0,388.6 475.0,388.0 477.6,388.0 479.0,401.0 481.0,425.0 482.6,439.0 484.0,425.0 486.0,407.0 488.4,397.0 490.0,396.0 491.6,389.4 496.0,390.0 502.0,391.4 507.0,392.6 508.4,397.4 511.6,398.6 513.0,394.0 514.4,391.4 516.4,392.0 517.4,397.4 521.0,397.0" fill="none" stroke="#3cb043" stroke-width="0.75" stroke-linejoin="round"/>
<polyline points="28.4,383.6 42.0,384.2 47.7,381.1 55.5,375.7 63.2,370.3 67.8,368.0 72.5,370.3 78.6,375.7 86.4,379.6 94.0,381.9 101.8,382.7 115.0,383.2 120.0,383.4 122.0,380.6 125.0,379.4 127.0,382.0 130.0,383.4 133.0,382.6 136.0,378.6 137.6,377.0 140.0,380.0 143.0,382.0 150.0,382.6 160.0,383.4 163.0,381.4 166.0,380.6 168.6,383.4 175.0,384.0 185.0,384.6 191.0,384.6 193.0,383.0 196.0,382.6 198.0,384.0 205.0,384.0 206.6,382.6 209.0,382.6 211.0,384.0 220.0,384.0 228.0,383.4 230.0,381.0 232.0,373.0 234.0,369.4 236.0,374.0 239.0,376.6 241.0,376.0 244.0,380.0 248.0,381.4 255.0,382.0 262.0,382.0 268.0,381.4 272.0,383.0 280.0,383.4 290.0,384.6 296.0,385.0 304.0,384.0 311.0,384.6 313.6,381.0 315.6,376.0 317.0,374.6 319.0,377.4 322.0,381.0 326.0,382.0 330.0,381.6 333.0,381.4 341.0,382.6 350.0,384.0 360.0,383.4 368.0,384.6 370.6,381.4 373.4,380.6 376.0,382.6 380.0,381.4 383.0,378.6 385.4,376.6 388.0,379.0 392.0,381.0 399.0,381.4 405.0,382.0 410.0,382.0 412.0,380.0 414.6,380.6 418.0,383.0 425.0,384.4 430.0,384.6 438.0,385.0 441.0,383.4 444.0,384.0 446.0,385.4 452.0,385.0 454.4,383.4 457.0,384.0 459.0,385.0 470.0,384.6 476.0,384.0 478.0,381.0 480.4,375.0 482.4,372.0 484.4,375.0 487.0,379.0 491.0,381.4 495.0,382.0 500.0,380.6 505.0,380.0 509.0,378.6 512.0,380.0 515.0,379.4 517.0,378.6 521.0,380.0" fill="none" stroke="#ea4a4a" stroke-width="0.75" stroke-linejoin="round"/>
<rect x="25.9" y="350.7" width="496.9" height="127.5" fill="none" stroke="#6a6a6a" stroke-width="0.65"/>
<line x1="47.0" y1="478.2" x2="47.0" y2="479.5" stroke="#6a6a6a" stroke-width="0.6"/>
<line x1="109.0" y1="478.2" x2="109.0" y2="479.5" stroke="#6a6a6a" stroke-width="0.6"/>
<line x1="171.6" y1="478.2" x2="171.6" y2="479.5" stroke="#6a6a6a" stroke-width="0.6"/>
<line x1="234.2" y1="478.2" x2="234.2" y2="479.5" stroke="#6a6a6a" stroke-width="0.6"/>
<line x1="295.4" y1="478.2" x2="295.4" y2="479.5" stroke="#6a6a6a" stroke-width="0.6"/>
<line x1="357.4" y1="478.2" x2="357.4" y2="479.5" stroke="#6a6a6a" stroke-width="0.6"/>
<line x1="420.0" y1="478.2" x2="420.0" y2="479.5" stroke="#6a6a6a" stroke-width="0.6"/>
<line x1="482.6" y1="478.2" x2="482.6" y2="479.5" stroke="#6a6a6a" stroke-width="0.6"/>
<line x1="24.5" y1="350.7" x2="25.9" y2="350.7" stroke="#6a6a6a" stroke-width="0.6"/>
<text x="23.6" y="352.5" text-anchor="end" font-size="4.5" fill="#3a3a3a" style="stroke-width:0.08px">10<tspan dy="-1.7" font-size="3.1">7</tspan></text>
<line x1="24.5" y1="366.5" x2="25.9" y2="366.5" stroke="#6a6a6a" stroke-width="0.6"/>
<text x="23.6" y="368.3" text-anchor="end" font-size="4.5" fill="#3a3a3a" style="stroke-width:0.08px">10<tspan dy="-1.7" font-size="3.1">6</tspan></text>
<line x1="24.5" y1="382.3" x2="25.9" y2="382.3" stroke="#6a6a6a" stroke-width="0.6"/>
<text x="23.6" y="384.1" text-anchor="end" font-size="4.5" fill="#3a3a3a" style="stroke-width:0.08px">10<tspan dy="-1.7" font-size="3.1">5</tspan></text>
<line x1="24.5" y1="398.0" x2="25.9" y2="398.0" stroke="#6a6a6a" stroke-width="0.6"/>
<text x="23.6" y="399.8" text-anchor="end" font-size="4.5" fill="#3a3a3a" style="stroke-width:0.08px">10<tspan dy="-1.7" font-size="3.1">4</tspan></text>
<line x1="24.5" y1="413.8" x2="25.9" y2="413.8" stroke="#6a6a6a" stroke-width="0.6"/>
<text x="23.6" y="415.6" text-anchor="end" font-size="4.5" fill="#3a3a3a" style="stroke-width:0.08px">10<tspan dy="-1.7" font-size="3.1">3</tspan></text>
<line x1="24.5" y1="429.6" x2="25.9" y2="429.6" stroke="#6a6a6a" stroke-width="0.6"/>
<text x="23.6" y="431.4" text-anchor="end" font-size="4.5" fill="#3a3a3a" style="stroke-width:0.08px">10<tspan dy="-1.7" font-size="3.1">2</tspan></text>
<line x1="24.5" y1="445.4" x2="25.9" y2="445.4" stroke="#6a6a6a" stroke-width="0.6"/>
<text x="23.6" y="447.2" text-anchor="end" font-size="4.5" fill="#3a3a3a" style="stroke-width:0.08px">10<tspan dy="-1.7" font-size="3.1">1</tspan></text>
<line x1="24.5" y1="461.2" x2="25.9" y2="461.2" stroke="#6a6a6a" stroke-width="0.6"/>
<text x="23.6" y="463.0" text-anchor="end" font-size="4.5" fill="#3a3a3a" style="stroke-width:0.08px">10<tspan dy="-1.7" font-size="3.1">0</tspan></text>
<line x1="24.5" y1="476.9" x2="25.9" y2="476.9" stroke="#6a6a6a" stroke-width="0.6"/>
<text x="23.6" y="478.7" text-anchor="end" font-size="4.5" fill="#3a3a3a" style="stroke-width:0.08px">10<tspan dy="-1.7" font-size="3.1">-1</tspan></text>
<line x1="522.8" y1="350.7" x2="524.1999999999999" y2="350.7" stroke="#6a6a6a" stroke-width="0.6"/>
<text x="525.0" y="352.7" font-size="4.8" fill="#333">40</text>
<line x1="522.8" y1="368.9" x2="524.1999999999999" y2="368.9" stroke="#6a6a6a" stroke-width="0.6"/>
<text x="525.0" y="370.9" font-size="4.8" fill="#333">20</text>
<line x1="522.8" y1="387.1" x2="524.1999999999999" y2="387.1" stroke="#6a6a6a" stroke-width="0.6"/>
<text x="525.0" y="389.1" font-size="4.8" fill="#333">0</text>
<line x1="522.8" y1="405.3" x2="524.1999999999999" y2="405.3" stroke="#6a6a6a" stroke-width="0.6"/>
<text x="525.0" y="407.3" font-size="4.8" fill="#333">-20</text>
<line x1="522.8" y1="423.6" x2="524.1999999999999" y2="423.6" stroke="#6a6a6a" stroke-width="0.6"/>
<text x="525.0" y="425.6" font-size="4.8" fill="#333">-40</text>
<line x1="522.8" y1="441.8" x2="524.1999999999999" y2="441.8" stroke="#6a6a6a" stroke-width="0.6"/>
<text x="525.0" y="443.8" font-size="4.8" fill="#333">-60</text>
<line x1="522.8" y1="460.0" x2="524.1999999999999" y2="460.0" stroke="#6a6a6a" stroke-width="0.6"/>
<text x="525.0" y="462.0" font-size="4.8" fill="#333">-80</text>
<line x1="522.8" y1="478.2" x2="524.1999999999999" y2="478.2" stroke="#6a6a6a" stroke-width="0.6"/>
<text x="525.0" y="480.2" font-size="4.8" fill="#333">-100</text>
<text transform="translate(13.6,411.2) rotate(-90)" text-anchor="middle" font-size="5.63" fill="#222">Weekly New Infection Case per 100k [#]</text>
<text transform="translate(541.9,416.9) rotate(-90)" text-anchor="middle" font-size="5.85" fill="#222">Urban Vitality Change [%]</text>
<text x="274.5" y="348.5" text-anchor="middle" font-size="5.62" fill="#222">Ishikawa [石川県]</text>
<rect x="28.9" y="353.5" width="90.8" height="40.7" rx="1" fill="#fff" fill-opacity="0.8" stroke="#dcdcdc" stroke-width="0.5"/>
<rect x="31.2" y="356.4" width="11.4" height="3.8" fill="#fba69c"/>
<line x1="31.2" y1="366.2" x2="42.6" y2="366.2" stroke="#3d92e0" stroke-width="0.75"/>
<line x1="31.2" y1="374.1" x2="42.6" y2="374.1" stroke="#ff962e" stroke-width="0.75"/>
<line x1="31.2" y1="382.0" x2="42.6" y2="382.0" stroke="#3cb043" stroke-width="0.75"/>
<line x1="31.2" y1="389.9" x2="42.6" y2="389.9" stroke="#ea4a4a" stroke-width="0.75"/>
<text x="47.0" y="360.4" font-size="6" textLength="70.1" lengthAdjust="spacingAndGlyphs" fill="#111">Weekly New Infection Case</text>
<text x="47.0" y="368.2" font-size="6" textLength="42.1" lengthAdjust="spacingAndGlyphs" fill="#111">Retail Vitality</text>
<text x="47.0" y="376.2" font-size="6" textLength="44.9" lengthAdjust="spacingAndGlyphs" fill="#111">Transit Vitality</text>
<text x="47.0" y="384.1" font-size="6" textLength="53.3" lengthAdjust="spacingAndGlyphs" fill="#111">Workplaces Vitality</text>
<text x="47.0" y="392.0" font-size="6" textLength="56.1" lengthAdjust="spacingAndGlyphs" fill="#111">Residential Vitality</text>
<rect x="57.3" y="485.2" width="20.1" height="6.5" fill="#ff0000" fill-opacity="0.7"/>
<rect x="326.5" y="485.2" width="19.5" height="6.5" fill="#ffa500" fill-opacity="0.7"/>
<rect x="379.5" y="485.2" width="40.2" height="6.5" fill="#ffa500" fill-opacity="0.7"/>
<rect x="500.4" y="485.2" width="22.4" height="6.5" fill="#ffa500" fill-opacity="0.7"/>
<rect x="38.83" y="485.2" width="0.78" height="6.5" fill="#000" fill-opacity="0.72"/>
<rect x="66.05" y="485.2" width="0.78" height="6.5" fill="#000" fill-opacity="0.72"/>
<rect x="69.46" y="485.2" width="1.88" height="6.5" fill="#000" fill-opacity="0.72"/>
<rect x="123.90" y="485.2" width="1.47" height="6.5" fill="#000" fill-opacity="0.72"/>
<rect x="136.15" y="485.2" width="0.78" height="6.5" fill="#000" fill-opacity="0.72"/>
<rect x="164.73" y="485.2" width="1.47" height="6.5" fill="#000" fill-opacity="0.72"/>
<rect x="193.99" y="485.2" width="0.78" height="6.5" fill="#000" fill-opacity="0.72"/>
<rect x="207.60" y="485.2" width="0.78" height="6.5" fill="#000" fill-opacity="0.72"/>
<rect x="234.14" y="485.2" width="1.74" height="6.5" fill="#000" fill-opacity="0.72"/>
<rect x="240.94" y="485.2" width="0.78" height="6.5" fill="#000" fill-opacity="0.72"/>
<rect x="262.04" y="485.2" width="0.78" height="6.5" fill="#000" fill-opacity="0.72"/>
<rect x="270.20" y="485.2" width="0.78" height="6.5" fill="#000" fill-opacity="0.72"/>
<rect x="287.22" y="485.2" width="0.78" height="6.5" fill="#000" fill-opacity="0.72"/>
<rect x="314.44" y="485.2" width="0.78" height="6.5" fill="#000" fill-opacity="0.72"/>
<rect x="317.16" y="485.2" width="2.15" height="6.5" fill="#000" fill-opacity="0.72"/>
<rect x="371.60" y="485.2" width="1.47" height="6.5" fill="#000" fill-opacity="0.72"/>
<rect x="383.17" y="485.2" width="1.47" height="6.5" fill="#000" fill-opacity="0.72"/>
<rect x="412.43" y="485.2" width="0.78" height="6.5" fill="#000" fill-opacity="0.72"/>
<rect x="414.47" y="485.2" width="0.78" height="6.5" fill="#000" fill-opacity="0.72"/>
<rect x="442.37" y="485.2" width="0.78" height="6.5" fill="#000" fill-opacity="0.72"/>
<rect x="455.98" y="485.2" width="0.78" height="6.5" fill="#000" fill-opacity="0.72"/>
<rect x="482.52" y="485.2" width="1.88" height="6.5" fill="#000" fill-opacity="0.72"/>
<rect x="488.64" y="485.2" width="0.78" height="6.5" fill="#000" fill-opacity="0.72"/>
<rect x="510.42" y="485.2" width="0.78" height="6.5" fill="#000" fill-opacity="0.72"/>
<rect x="518.59" y="485.2" width="0.78" height="6.5" fill="#000" fill-opacity="0.72"/>
<rect x="25.9" y="485.2" width="496.9" height="6.5" fill="none" stroke="#6a6a6a" stroke-width="0.7"/>
<line x1="47.0" y1="491.7" x2="47.0" y2="493.0" stroke="#6a6a6a" stroke-width="0.6"/>
<text x="47.1" y="497.3" text-anchor="middle" font-size="5" textLength="15.4" lengthAdjust="spacingAndGlyphs" fill="#333">2020-04</text>
<line x1="109.0" y1="491.7" x2="109.0" y2="493.0" stroke="#6a6a6a" stroke-width="0.6"/>
<text x="109.1" y="497.3" text-anchor="middle" font-size="5" textLength="15.4" lengthAdjust="spacingAndGlyphs" fill="#333">2020-07</text>
<line x1="171.6" y1="491.7" x2="171.6" y2="493.0" stroke="#6a6a6a" stroke-width="0.6"/>
<text x="171.7" y="497.3" text-anchor="middle" font-size="5" textLength="15.4" lengthAdjust="spacingAndGlyphs" fill="#333">2020-10</text>
<line x1="234.2" y1="491.7" x2="234.2" y2="493.0" stroke="#6a6a6a" stroke-width="0.6"/>
<text x="234.3" y="497.3" text-anchor="middle" font-size="5" textLength="15.4" lengthAdjust="spacingAndGlyphs" fill="#333">2021-01</text>
<line x1="295.4" y1="491.7" x2="295.4" y2="493.0" stroke="#6a6a6a" stroke-width="0.6"/>
<text x="295.5" y="497.3" text-anchor="middle" font-size="5" textLength="15.4" lengthAdjust="spacingAndGlyphs" fill="#333">2021-04</text>
<line x1="357.4" y1="491.7" x2="357.4" y2="493.0" stroke="#6a6a6a" stroke-width="0.6"/>
<text x="357.5" y="497.3" text-anchor="middle" font-size="5" textLength="15.4" lengthAdjust="spacingAndGlyphs" fill="#333">2021-07</text>
<line x1="420.0" y1="491.7" x2="420.0" y2="493.0" stroke="#6a6a6a" stroke-width="0.6"/>
<text x="420.1" y="497.3" text-anchor="middle" font-size="5" textLength="15.4" lengthAdjust="spacingAndGlyphs" fill="#333">2021-10</text>
<line x1="482.6" y1="491.7" x2="482.6" y2="493.0" stroke="#6a6a6a" stroke-width="0.6"/>
<text x="482.7" y="497.3" text-anchor="middle" font-size="5" textLength="15.4" lengthAdjust="spacingAndGlyphs" fill="#333">2022-01</text>
</svg>
</body></html>
